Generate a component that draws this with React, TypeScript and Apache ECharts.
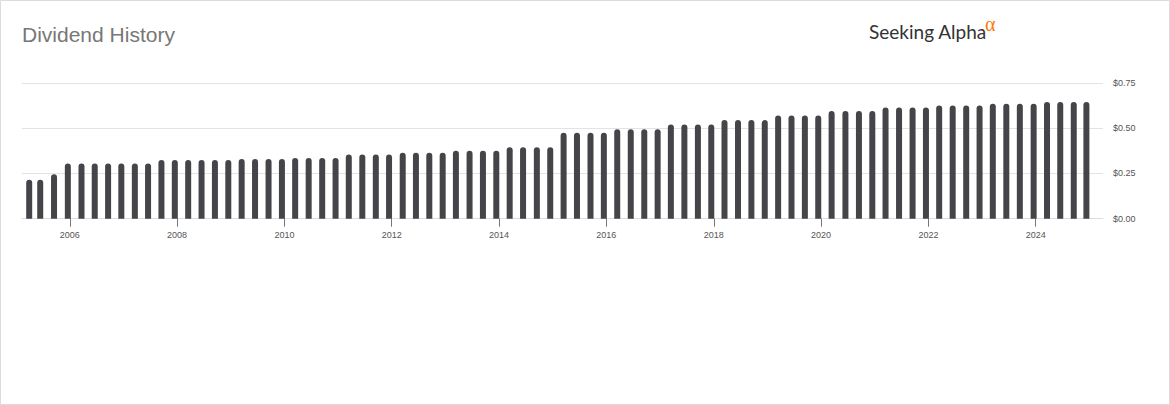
import { useEffect, useRef } from 'react';
import * as echarts from 'echarts';

// ex-dividend dates, one per quarter
const exDates = [
  '2005-03-31', '2005-06-14', '2005-09-16', '2005-12-19',
  '2006-03-22', '2006-06-20', '2006-09-19', '2006-12-18',
  '2007-03-20', '2007-06-18', '2007-09-17', '2007-12-17',
  '2008-03-17', '2008-06-16', '2008-09-15', '2008-12-15',
  '2009-03-16', '2009-06-15', '2009-09-15', '2009-12-15',
  '2010-03-15', '2010-06-15', '2010-09-15', '2010-12-15',
  '2011-03-15', '2011-06-15', '2011-09-15', '2011-12-14',
  '2012-03-16', '2012-06-14', '2012-09-13', '2012-12-13',
  '2013-03-13', '2013-06-14', '2013-09-13', '2013-12-13',
  '2014-03-14', '2014-06-13', '2014-09-15', '2014-12-15',
  '2015-03-16', '2015-06-15', '2015-09-15', '2015-12-15',
  '2016-03-15', '2016-06-15', '2016-09-15', '2016-12-15',
  '2017-03-15', '2017-06-15', '2017-09-15', '2017-12-15',
  '2018-03-15', '2018-06-15', '2018-09-14', '2018-12-14',
  '2019-03-15', '2019-06-14', '2019-09-13', '2019-12-13',
  '2020-03-13', '2020-06-15', '2020-09-15', '2020-12-15',
  '2021-03-15', '2021-06-15', '2021-09-15', '2021-12-15',
  '2022-03-15', '2022-06-15', '2022-09-15', '2022-12-15',
  '2023-03-15', '2023-06-15', '2023-09-15', '2023-12-18',
  '2024-03-18', '2024-06-16', '2024-09-16', '2024-12-11',
];

// quarterly dividend per share ($)
const dividends = [
  0.215, 0.215, 0.245, 0.305,
  0.305, 0.305, 0.305, 0.305,
  0.305, 0.305, 0.325, 0.325,
  0.325, 0.325, 0.325, 0.325,
  0.33, 0.33, 0.33, 0.33,
  0.335, 0.335, 0.335, 0.335,
  0.355, 0.355, 0.355, 0.355,
  0.365, 0.365, 0.365, 0.365,
  0.375, 0.375, 0.375, 0.375,
  0.395, 0.395, 0.395, 0.395,
  0.475, 0.475, 0.475, 0.475,
  0.495, 0.495, 0.495, 0.495,
  0.52, 0.52, 0.52, 0.52,
  0.545, 0.545, 0.545, 0.545,
  0.57, 0.57, 0.57, 0.57,
  0.595, 0.595, 0.595, 0.595,
  0.615, 0.615, 0.615, 0.615,
  0.625, 0.625, 0.625, 0.625,
  0.635, 0.635, 0.635, 0.635,
  0.645, 0.645, 0.645, 0.645,
];

const yearTicks = ['2006', '2008', '2010', '2012', '2014', '2016', '2018', '2020', '2022', '2024'];
const yTicks = [0, 0.25, 0.5, 0.75];

const toTime = (s: string) => {
  const [y, m, d] = s.split('-').map(Number);
  return new Date(y, m - 1, d).getTime();
};

export default function App() {
  const ref = useRef<HTMLDivElement>(null);

  useEffect(() => {
    document.body.style.margin = '0';
    if (!ref.current) return;
    const chart = echarts.init(ref.current, null, { renderer: 'svg' });
    const tickTimes = yearTicks.map((y) => new Date(Number(y), 0, 1).getTime());

    chart.setOption({
      animation: false,
      backgroundColor: '#fff',
      grid: { left: 22, right: 67, top: 83, height: 135.7 },
      graphic: [
        {
          type: 'rect',
          shape: { x: 0.5, y: 0.5, width: 1169, height: 404 },
          style: { fill: 'none', stroke: '#dcdcdc', lineWidth: 1 },
          silent: true,
        },
        {
          type: 'text',
          x: 22,
          y: 34,
          style: {
            text: 'Dividend History',
            font: '21px Arial, "Liberation Sans", sans-serif',
            fill: '#777',
            verticalAlign: 'middle',
          },
        },
        {
          type: 'text',
          x: 869,
          y: 31,
          style: {
            text: 'Seeking Alpha',
            font: '19px Lato, "Open Sans", sans-serif',
            fill: '#333',
            verticalAlign: 'middle',
          },
        },
        {
          type: 'text',
          x: 985,
          y: 24,
          style: {
            text: 'α',
            font: '20px "Liberation Serif", "DejaVu Serif", serif',
            fill: '#ff7a00',
            verticalAlign: 'middle',
          },
        },
      ],
      xAxis: {
        type: 'value',
        min: new Date(2005, 1, 10).getTime(),
        max: new Date(2025, 3, 3).getTime(),
        splitLine: { show: false },
        axisLine: { show: true, lineStyle: { color: '#dcdcdc', width: 1 } },
        axisTick: {
          show: true,
          customValues: tickTimes,
          length: 8,
          lineStyle: { color: '#777', width: 1 },
        },
        axisLabel: {
          customValues: tickTimes,
          formatter: (v: number) => String(new Date(v).getFullYear()),
          color: '#555',
          fontSize: 9,
          fontFamily: 'Arial, "Liberation Sans", sans-serif',
          margin: 12,
        },
      },
      yAxis: {
        type: 'value',
        position: 'right',
        min: yTicks[0],
        max: yTicks[yTicks.length - 1],
        interval: 0.25,
        axisLine: { show: false },
        axisTick: { show: false },
        splitLine: { lineStyle: { color: '#e3e3e3', width: 1 } },
        axisLabel: {
          formatter: (v: number) => '$' + v.toFixed(2),
          color: '#555',
          fontSize: 9,
          fontFamily: 'Arial, "Liberation Sans", sans-serif',
          margin: 10,
        },
      },
      series: [
        {
          type: 'bar',
          barWidth: 6,
          itemStyle: { color: '#454448', borderRadius: [3, 3, 0, 0] },
          data: exDates.map((d, i) => [toTime(d), dividends[i]]),
        },
      ],
    });

    return () => chart.dispose();
  }, []);

  return <div ref={ref} style={{ width: 1170, height: 405 }} />;
}
